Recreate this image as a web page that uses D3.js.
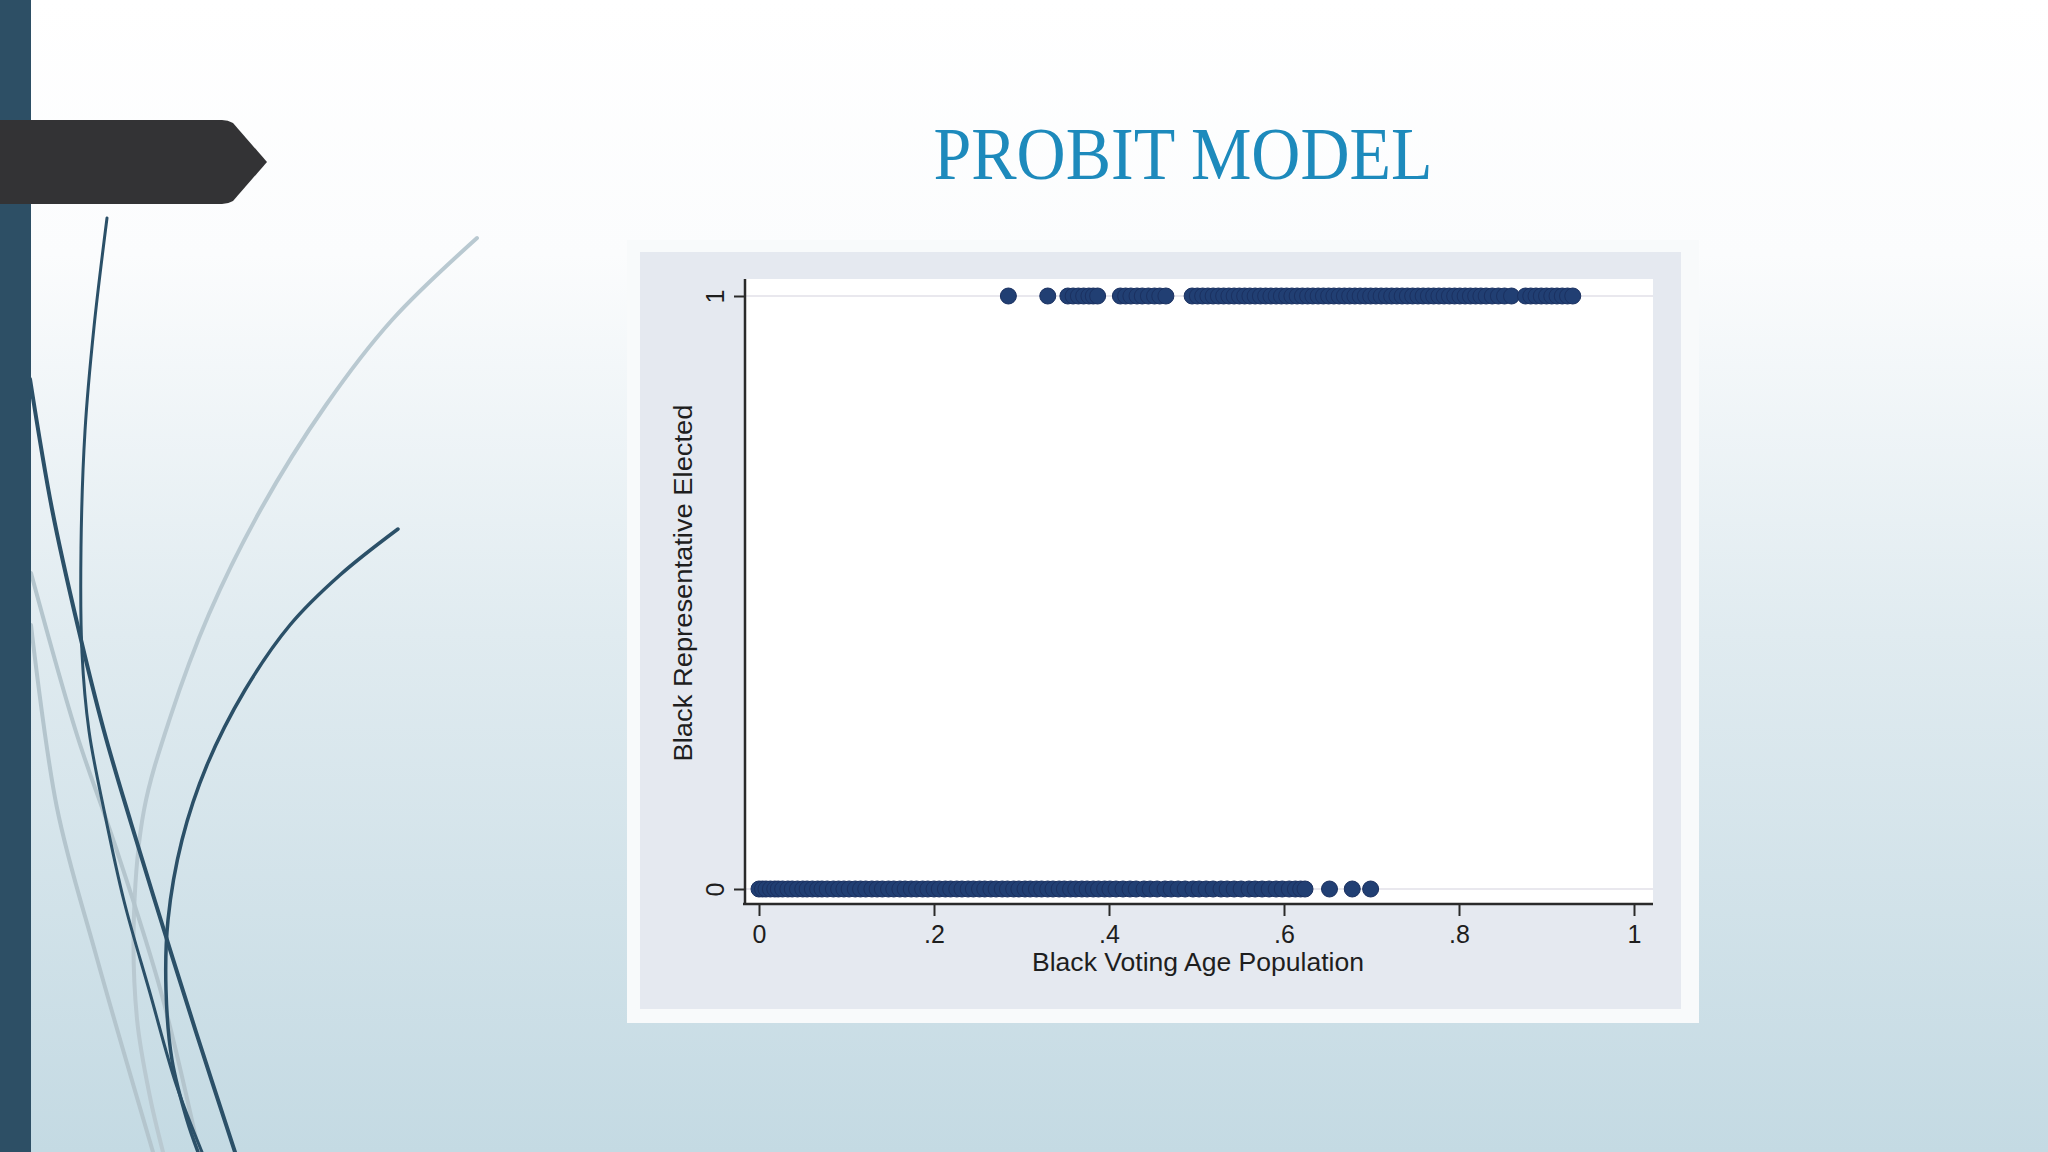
<!DOCTYPE html>
<html>
<head>
<meta charset="utf-8">
<script src="https://cdn.jsdelivr.net/npm/d3@7"></script>
<style>
  html, body { margin: 0; padding: 0; overflow: hidden; }
  svg { display: block; }
</style>
</head>
<body>
<svg id="slide" width="2048" height="1152"></svg>
<script>
// Data: Black VAP share, split by outcome
const xTicks = [0, 0.2, 0.4, 0.6, 0.8, 1];
const xTickLabels = ['0', '.2', '.4', '.6', '.8', '1'];
const yTicks = [0, 1];
const yTickLabels = ['0', '1'];

// districts with no black representative elected (y = 0)
const notElected = [
    0.000, 0.004, 0.008, 0.013, 0.018, 0.022, 0.027, 0.033, 0.038, 0.044,
    0.050, 0.055, 0.061, 0.067, 0.072, 0.078, 0.085, 0.091, 0.097, 0.103,
    0.110, 0.116, 0.122, 0.129, 0.135, 0.141, 0.148, 0.154, 0.161, 0.167,
    0.174, 0.180, 0.187, 0.193, 0.200, 0.206, 0.213, 0.219, 0.226, 0.232,
    0.239, 0.245, 0.252, 0.258, 0.265, 0.271, 0.278, 0.284, 0.291, 0.297,
    0.304, 0.310, 0.317, 0.323, 0.330, 0.336, 0.343, 0.349, 0.356, 0.362,
    0.369, 0.375, 0.382, 0.388, 0.395, 0.401, 0.408, 0.416, 0.424, 0.431,
    0.440, 0.447, 0.455, 0.464, 0.471, 0.479, 0.487, 0.496, 0.503, 0.511,
    0.519, 0.528, 0.535, 0.543, 0.551, 0.560, 0.567, 0.575, 0.583, 0.591,
    0.598, 0.606, 0.613, 0.619, 0.624, 0.652, 0.678, 0.699
];

// districts where a black representative was elected (y = 1)
const elected = [
    0.285, 0.330,
    0.353, 0.359, 0.365, 0.371, 0.377, 0.382, 0.387,
    0.413, 0.419, 0.425, 0.432, 0.438, 0.445, 0.452, 0.458, 0.465,
    0.495, 0.501, 0.507, 0.513, 0.519, 0.525, 0.531, 0.537, 0.543, 0.549,
    0.555, 0.561, 0.567, 0.573, 0.579, 0.585, 0.591, 0.597, 0.603, 0.609,
    0.615, 0.621, 0.627, 0.633, 0.639, 0.645, 0.651, 0.657, 0.663, 0.669,
    0.675, 0.681, 0.687, 0.693, 0.699, 0.705, 0.711, 0.717, 0.723, 0.729,
    0.735, 0.741, 0.747, 0.753, 0.759, 0.765, 0.771, 0.777, 0.783, 0.789,
    0.795, 0.801, 0.807, 0.813, 0.819, 0.825, 0.831, 0.838, 0.845, 0.852,
    0.860, 0.876, 0.882, 0.888, 0.894, 0.900, 0.906, 0.912, 0.918, 0.924,
    0.930
];

const svg = d3.select('#slide');
const defs = svg.append('defs');

// Slide background: white fading to pale blue
const bg = defs.append('linearGradient')
    .attr('id', 'bgGrad')
    .attr('x1', 0).attr('y1', 0).attr('x2', 0).attr('y2', 1);
bg.append('stop').attr('offset', '0%').attr('stop-color', '#ffffff');
bg.append('stop').attr('offset', '22%').attr('stop-color', '#fbfcfd');
bg.append('stop').attr('offset', '55%').attr('stop-color', '#e0ebf0');
bg.append('stop').attr('offset', '100%').attr('stop-color', '#c4dae3');

svg.append('rect')
    .attr('width', 2048).attr('height', 1152)
    .attr('fill', 'url(#bgGrad)');

// Decorative swooshes on the left
const swoosh = d3.line().curve(d3.curveCatmullRom.alpha(0.5));
const curves = [
    { c: '#b9c9d1', w: 4, pts: [[477, 238], [392, 320], [326, 405], [261, 509], [209, 614], [170, 718], [144, 810], [134, 914], [137, 1019], [150, 1097], [163, 1152]] },
    { c: '#b4c5cd', w: 4, pts: [[31, 573], [77, 735], [115, 845], [161, 992], [199, 1152]] },
    { c: '#b4c5cd', w: 4, pts: [[31, 625], [57, 808], [96, 955], [153, 1152]] },
    { c: '#2b5068', w: 3, pts: [[107, 218], [94, 327], [85, 431], [81, 548], [82, 653], [89, 731], [104, 810], [124, 901], [150, 993], [176, 1084], [202, 1152]] },
    { c: '#2b5068', w: 4, pts: [[30, 379], [52, 509], [78, 627], [104, 731], [131, 823], [163, 927], [196, 1032], [235, 1152]] },
    { c: '#2b5068', w: 3.5, pts: [[398, 529], [340, 575], [290, 625], [245, 690], [207, 765], [182, 840], [168, 920], [166, 990], [172, 1060], [187, 1120], [198, 1152]] }
];
svg.append('g')
    .selectAll('path')
    .data(curves)
    .enter()
    .append('path')
    .attr('d', d => swoosh(d.pts))
    .attr('fill', 'none')
    .attr('stroke', d => d.c)
    .attr('stroke-width', d => d.w)
    .attr('stroke-linecap', 'round');

// Left bar and arrow tab
svg.append('rect')
    .attr('x', 0).attr('y', 0)
    .attr('width', 31).attr('height', 1152)
    .attr('fill', '#2d4f65');
svg.append('path')
    .attr('d', 'M0,120 L222,120 Q228,120 233,123 L267,162 L233,201 Q228,204 222,204 L0,204 Z')
    .attr('fill', '#333335');

// Title
svg.append('text')
    .attr('x', 1183).attr('y', 179)
    .attr('text-anchor', 'middle')
    .attr('font-family', '"Liberation Serif", "Times New Roman", serif')
    .attr('font-size', 75)
    .attr('textLength', 499)
    .attr('lengthAdjust', 'spacingAndGlyphs')
    .attr('fill', '#1d8abc')
    .text('PROBIT MODEL');

// Stata graph: outer frame, graph region, plot region
svg.append('rect')
    .attr('x', 627).attr('y', 240)
    .attr('width', 1072).attr('height', 783)
    .attr('fill', '#f8fafb');
svg.append('rect')
    .attr('x', 640).attr('y', 252)
    .attr('width', 1041).attr('height', 757)
    .attr('fill', '#e5e9f0');
svg.append('rect')
    .attr('x', 744).attr('y', 279)
    .attr('width', 909).attr('height', 625)
    .attr('fill', '#ffffff');

const x = d3.scaleLinear().domain([0, 1]).range([759, 1634]);
const y = d3.scaleLinear().domain([0, 1]).range([889, 296]);

// light gridlines at the two outcome levels
svg.append('g')
    .selectAll('line')
    .data(yTicks)
    .enter()
    .append('line')
    .attr('x1', 745).attr('x2', 1653)
    .attr('y1', d => y(d)).attr('y2', d => y(d))
    .attr('stroke', '#e9e8ee')
    .attr('stroke-width', 2);

// points
const pts = notElected.map(v => ({ x: v, y: 0 }))
    .concat(elected.map(v => ({ x: v, y: 1 })));
svg.append('g')
    .selectAll('circle')
    .data(pts)
    .enter()
    .append('circle')
    .attr('cx', d => x(d.x))
    .attr('cy', d => y(d.y))
    .attr('r', 8)
    .attr('fill', '#213f73')
    .attr('stroke', '#1b3161')
    .attr('stroke-width', 1);

// axes
const axisFont = '"Liberation Sans", Arial, sans-serif';

const xAxis = svg.append('g')
    .attr('transform', 'translate(0,904)')
    .call(d3.axisBottom(x)
        .tickValues(xTicks)
        .tickFormat((d, i) => xTickLabels[i])
        .tickSize(12)
        .tickSizeOuter(0)
        .tickPadding(9));
xAxis.select('.domain').remove();
xAxis.selectAll('.tick line').attr('stroke', '#2a2a2a').attr('stroke-width', 2);
xAxis.selectAll('.tick text')
    .attr('font-family', axisFont)
    .attr('font-size', 25)
    .attr('fill', '#1e1e1e');
xAxis.append('line')
    .attr('x1', 743).attr('x2', 1653)
    .attr('stroke', '#2a2a2a').attr('stroke-width', 2.5);

const yAxis = svg.append('g')
    .attr('transform', 'translate(745,0)')
    .call(d3.axisLeft(y)
        .tickValues(yTicks)
        .tickFormat((d, i) => yTickLabels[i])
        .tickSize(11)
        .tickSizeOuter(0));
yAxis.select('.domain').remove();
yAxis.selectAll('.tick line').attr('stroke', '#2a2a2a').attr('stroke-width', 2);
yAxis.selectAll('.tick text')
    .attr('x', null).attr('dy', null)
    .attr('transform', 'translate(-28,0) rotate(-90)')
    .attr('text-anchor', 'middle')
    .attr('dominant-baseline', 'middle')
    .attr('font-family', axisFont)
    .attr('font-size', 25)
    .attr('fill', '#1e1e1e');
yAxis.append('line')
    .attr('y1', 279).attr('y2', 905)
    .attr('stroke', '#2a2a2a').attr('stroke-width', 2.5);

// axis titles
svg.append('text')
    .attr('x', 1198).attr('y', 971)
    .attr('text-anchor', 'middle')
    .attr('font-family', axisFont)
    .attr('font-size', 25)
    .attr('textLength', 332)
    .attr('lengthAdjust', 'spacingAndGlyphs')
    .attr('fill', '#1e1e1e')
    .text('Black Voting Age Population');

svg.append('text')
    .attr('transform', 'translate(692,583) rotate(-90)')
    .attr('text-anchor', 'middle')
    .attr('font-family', axisFont)
    .attr('font-size', 25)
    .attr('textLength', 357)
    .attr('lengthAdjust', 'spacingAndGlyphs')
    .attr('fill', '#1e1e1e')
    .text('Black Representative Elected');
</script>
</body>
</html>
